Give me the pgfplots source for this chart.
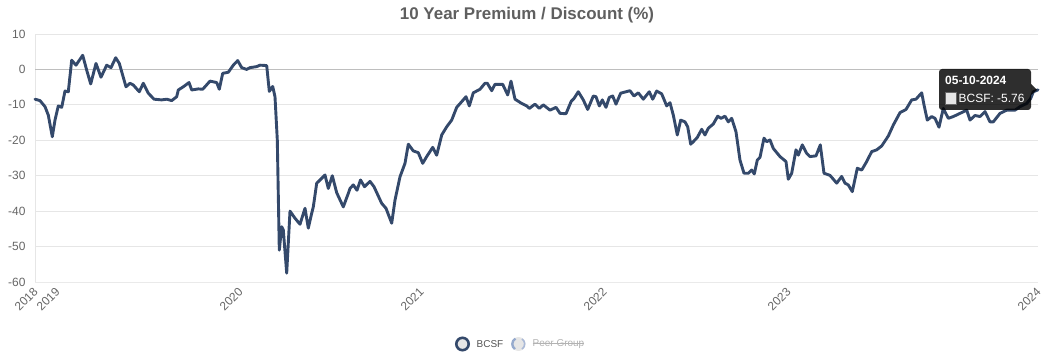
\documentclass[border=0pt]{standalone}
\usepackage{pgfplots}
\pgfplotsset{compat=1.18}
\usepackage{pgfplotstable}
\usepackage{fontspec}
\setmainfont{Liberation Sans}
\definecolor{linecol}{RGB}{52,73,107}
\definecolor{gridcol}{RGB}{230,230,230}
\definecolor{zerocol}{RGB}{190,190,190}
\definecolor{labcol}{RGB}{102,102,102}
\definecolor{titcol}{RGB}{95,95,95}

\pgfplotstableread{
px val
35 -8.4
40 -8.8
45 -10.5
48.3 -12.9
52.3 -19.0
55 -14.3
58.3 -10.3
61.7 -10.7
65 -6.1
68.3 -6.3
71.7 2.6
76 1.2
82.7 4.0
86.7 -0.2
90.7 -4.1
96 1.7
101 -2.2
106.7 1.2
111 0.5
115.7 3.3
119.3 1.7
126 -4.9
130 -3.9
133.3 -4.4
139.3 -6.3
143.3 -3.9
148.3 -6.7
154 -8.4
161.7 -8.6
166.7 -8.4
171.7 -8.8
176.7 -7.7
178.3 -5.8
183.3 -4.9
189 -3.7
191.7 -5.8
198.3 -5.5
202.7 -5.6
210 -3.3
216.7 -3.7
219.3 -5.6
222.7 -1.1
228.3 -0.8
233.3 1.2
237.7 2.5
241.7 0.5
246.7 0.0
250 0.5
256.7 0.8
260 1.2
266.7 1.1
269.3 -6.2
272.7 -4.8
275 -7.7
277.3 -19.9
279.3 -51.0
281.7 -44.4
283.3 -45.3
286.7 -57.5
290 -40.0
295 -42.0
300 -43.7
305 -39.2
308.3 -44.8
311.7 -40.6
313.3 -38.8
316.7 -32.1
318.3 -31.7
325 -29.8
328.3 -33.6
332.3 -30.0
336.7 -34.8
343.3 -38.8
348.3 -35.0
350 -33.6
353.3 -32.6
357 -34.1
360.5 -31.2
364.5 -33.1
370 -31.6
374 -33.1
381.7 -37.8
386 -39.2
391.7 -43.4
395 -36.9
400 -30.3
405 -26.5
408.3 -21.1
413.3 -23.0
418.3 -23.5
422.7 -26.5
426.7 -24.6
432.7 -22.0
436.7 -24.2
441.7 -18.5
446.7 -16.2
451.7 -14.3
456.7 -10.7
461.7 -9.1
466 -7.7
469.3 -10.3
473.3 -6.6
480 -5.6
485 -3.9
487.3 -3.9
491.7 -6.0
495 -4.2
502.7 -4.2
507.7 -7.2
511 -3.3
515 -8.4
521.7 -9.6
526.7 -10.3
529.3 -11.0
535 -9.8
539.3 -11.0
543.3 -10.0
550 -11.5
556 -10.7
560 -12.4
566 -12.5
571.2 -9.0
574 -8.2
578.3 -6.3
583.3 -8.6
587.7 -11.3
593.3 -7.5
596 -7.7
599.3 -10.3
602.3 -8.6
606 -10.7
609.3 -7.9
612.7 -7.5
616 -9.8
620.7 -6.7
630 -6.0
634 -7.5
638.3 -6.6
643.3 -8.4
649.3 -6.3
652.7 -8.4
656.7 -6.1
661.7 -6.9
666.7 -10.3
670 -9.4
673.3 -12.9
677.3 -18.5
680.7 -14.3
685 -14.8
687.7 -16.2
690.7 -21.1
693.3 -20.4
697.3 -19.2
701.7 -16.9
705 -18.5
708.3 -16.6
713.3 -15.4
717.7 -13.2
721 -13.8
725 -13.2
728.3 -14.8
731.7 -13.8
736 -17.6
740 -25.6
744 -29.3
748.3 -29.3
751.7 -28.4
754.3 -29.5
757.3 -25.6
760 -24.8
764 -19.4
766.7 -20.4
770 -19.9
773.3 -22.3
780 -24.6
786 -26.0
788.3 -31.0
791.7 -29.3
796 -22.7
798.3 -24.2
802.3 -21.3
806.7 -23.7
810 -24.6
816 -24.4
820.3 -21.3
824 -29.3
830 -29.9
836.7 -32.1
841.7 -30.2
845 -32.1
848.3 -32.6
852.3 -34.5
857.3 -27.9
861.7 -28.4
866.7 -26.0
871.7 -23.2
876.7 -22.7
881.7 -21.6
888.3 -18.8
893.3 -15.7
900 -12.2
906 -11.3
911.7 -8.6
916 -8.4
921.7 -6.6
924 -10.0
927.3 -14.3
931.7 -13.3
935 -13.8
939 -16.3
943.3 -11.0
948.3 -13.8
953.3 -13.3
960 -12.4
966.7 -11.5
970 -14.3
975 -13.0
980 -13.3
985 -11.9
990 -14.8
993.3 -14.8
1000 -12.4
1006.7 -11.5
1015 -11.5
1020 -10.5
1026.7 -9.6
1030.7 -8.2
1033.3 -6.3
1038 -5.76
}\bcsf

\begin{document}
\begin{tikzpicture}
\useasboundingbox (0,0) rectangle (1055bp,356bp);
\begin{axis}[
  at={(35bp,74bp)}, anchor=south west,
  scale only axis, width=1003bp, height=248bp,
  xmin=35, xmax=1038, ymin=-60, ymax=10,
  ytick={-60,-50,...,10},
  xtick={35,57,240,421,604,788,1038},
  xticklabels={2018,2019,2020,2021,2022,2023,2024},
  major tick length=0pt,
  ymajorgrids,
  grid style={color=gridcol, line width=0.8bp},
  extra y ticks={0}, extra y tick labels={},
  extra y tick style={grid style={color=zerocol, line width=0.9bp}},
  axis x line*=bottom, axis y line*=left,
  x axis line style={color=gridcol!80!black!30, line width=0.9bp},
  y axis line style={color=gridcol, line width=0.8bp},
  /pgf/number format/assume math mode=true,
  yticklabel style={font=\fontsize{12}{14}\selectfont, color=labcol, xshift=-6bp},
  xticklabel style={font=\fontsize{12}{14}\selectfont, color=labcol, rotate=45, anchor=east, xshift=-4bp, yshift=-6bp, inner sep=1bp},
  clip=false,
]
\addplot[color=linecol, line width=2.9bp, line join=round, line cap=round] table[x=px, y=val] {\bcsf};
\end{axis}
% title
\node[font=\bfseries\fontsize{17}{20}\selectfont, text=titcol] at (527bp,341bp) {10 Year Premium / Discount (\%)};
% legend
\draw[color=linecol, line width=2.6bp, fill=gridcol] (462.5bp,12bp) circle (6.2bp);
\node[anchor=west, font=\fontsize{10}{12}\selectfont, text=labcol!80!black, inner sep=0pt] at (476.5bp,12bp) {BCSF};
\fill[gridcol] (518.5bp,12bp) circle (7bp);
\draw[color={rgb,255:red,150;green,170;blue,205}, line width=2.4bp] (518.5bp,12bp) ++(120:6.2bp) arc (120:235:6.2bp);
\draw[color={rgb,255:red,170;green,185;blue,215}, line width=1.6bp] (518.5bp,12bp) ++(-55:6.2bp) arc (-55:55:6.2bp);
\node[anchor=west, font=\fontsize{10}{12}\selectfont, text=gray!60, inner sep=0pt] (pg) at (532.5bp,12bp) {Peer Group};
\draw[gray!60, line width=0.7bp] ([yshift=0.5bp]pg.west) -- ([yshift=0.5bp]pg.east);
% tooltip
\fill[black, fill opacity=0.82, rounded corners=3bp] (939bp,246bp) rectangle (1031bp,287bp);
\fill[black, fill opacity=0.82] (1031bp,272bp) -- (1037bp,266bp) -- (1031bp,261bp) -- cycle;
\node[anchor=west, font=\bfseries\fontsize{12}{14}\selectfont, text=white, inner sep=0pt] at (945bp,276bp) {05-10-2024};
\draw[fill=gridcol, draw=labcol, line width=0.6bp] (945.5bp,252bp) rectangle (956.5bp,263.5bp);
\node[anchor=west, font=\fontsize{12}{14}\selectfont, text=white, inner sep=0pt] at (958.5bp,257.7bp) {BCSF: -5.76};
\end{tikzpicture}
\end{document}
